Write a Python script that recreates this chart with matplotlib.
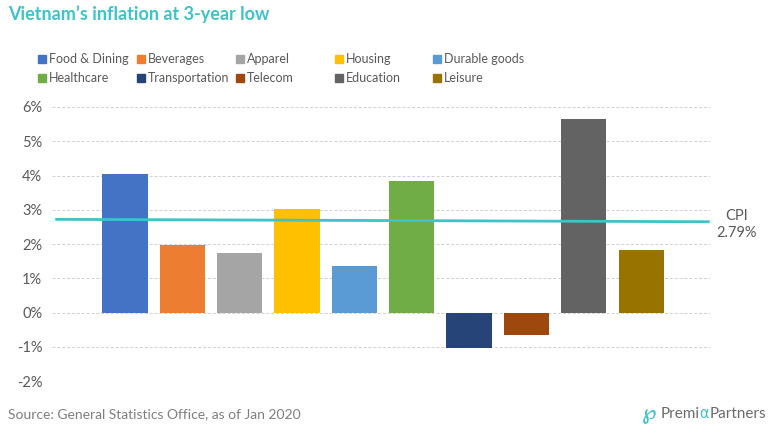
import numpy as np
import matplotlib.pyplot as plt
from matplotlib.patches import Rectangle

plt.rcParams["font.family"] = ["Lato", "DejaVu Sans"]

CATEGORIES = [
    "Food & Dining", "Beverages", "Apparel", "Housing", "Durable goods",
    "Healthcare", "Transportation", "Telecom", "Education", "Leisure",
]
INFLATION = [4.03, 1.98, 1.73, 3.03, 1.35, 3.83, -1.05, -0.67, 5.64, 1.82]
COLORS = [
    "#4472C4", "#ED7D31", "#A5A5A5", "#FFC000", "#5B9BD5",
    "#70AD47", "#264478", "#9E480E", "#636363", "#997300",
]
CPI_LINE = [2.72, 2.65]  # line drifts a touch from left to right
CPI_LABEL = "2.79%"
Y_TICKS = [-2, -1, 0, 1, 2, 3, 4, 5, 6]

TEAL = "#3DC3C8"
GREY = "#595959"

fig = plt.figure(figsize=(7.72, 4.28), dpi=100)
ax = fig.add_axes([0.0674, 0.1098, 0.8523, 0.6402])

x = np.arange(len(CATEGORIES))
ax.bar(x, INFLATION, width=0.79, color=COLORS, zorder=3)

xlim = (-1.27, 10.2)
ax.plot([xlim[0] + 0.08, xlim[1] - 0.03], CPI_LINE, color=TEAL, lw=2, zorder=4)

ax.set_xlim(*xlim)
ax.set_ylim(-2, 6)
ax.set_yticks(Y_TICKS)
ax.set_yticklabels([f"{t}%" for t in Y_TICKS], fontsize=10.5, color=GREY)
ax.set_xticks([])
ax.tick_params(axis="y", length=0, pad=7)
ax.grid(axis="y", color="#D0D0D0", ls=(0, (3, 2)), lw=0.7, zorder=0)
for s in ax.spines.values():
    s.set_visible(False)

ax.text(1.04, (CPI_LINE[1] + 0.17 + 2) / 8, "CPI", transform=ax.transAxes,
        fontsize=10.5, color=GREY, ha="center", va="center")
ax.text(1.04, (CPI_LINE[1] - 0.32 + 2) / 8, CPI_LABEL, transform=ax.transAxes,
        fontsize=10.5, color=GREY, ha="center", va="center")

fig.text(0.010, 0.968, "Vietnam\u2019s inflation at 3-year low", fontsize=13, fontweight="bold",
         color=TEAL, ha="left", va="center")

# legend, 5 columns x 2 rows
col_x = [38, 137, 236, 335, 433]
row_y = [59, 78]
for i, (name, c) in enumerate(zip(CATEGORIES, COLORS)):
    px = col_x[i % 5]
    py = row_y[i // 5]
    fig.patches.append(Rectangle((px / 772, 1 - (py + 4) / 428), 8 / 772, 8 / 428,
                                 color=c, transform=fig.transFigure))
    fig.text((px + 11) / 772, 1 - py / 428, name, fontsize=9, color=GREY, ha="left", va="center")

fig.text(0.010, 1 - 414 / 428, "Source: General Statistics Office, as of Jan 2020",
         fontsize=10, color="#7F7F7F", ha="left", va="center")

# logo, laid out right to left from the right edge
logo_y = 1 - 414 / 428
renderer = fig.canvas.get_renderer()
cursor = 766
for part, col, fam, size in [("Partners", "#6B6B6B", "Lato", 11), ("\u03b1", TEAL, "DejaVu Sans", 10.5),
                             ("Premi", "#6B6B6B", "Lato", 11), ("\u2118", TEAL, "DejaVu Sans", 15)]:
    t = fig.text(cursor / 772, logo_y, part, fontsize=size, color=col, ha="right", va="center",
                 family=fam, fontweight="bold" if part == "\u2118" else "normal")
    cursor -= t.get_window_extent(renderer).width + (4 if part == "Premi" else 0)

fig.savefig("out.png", dpi=100)
